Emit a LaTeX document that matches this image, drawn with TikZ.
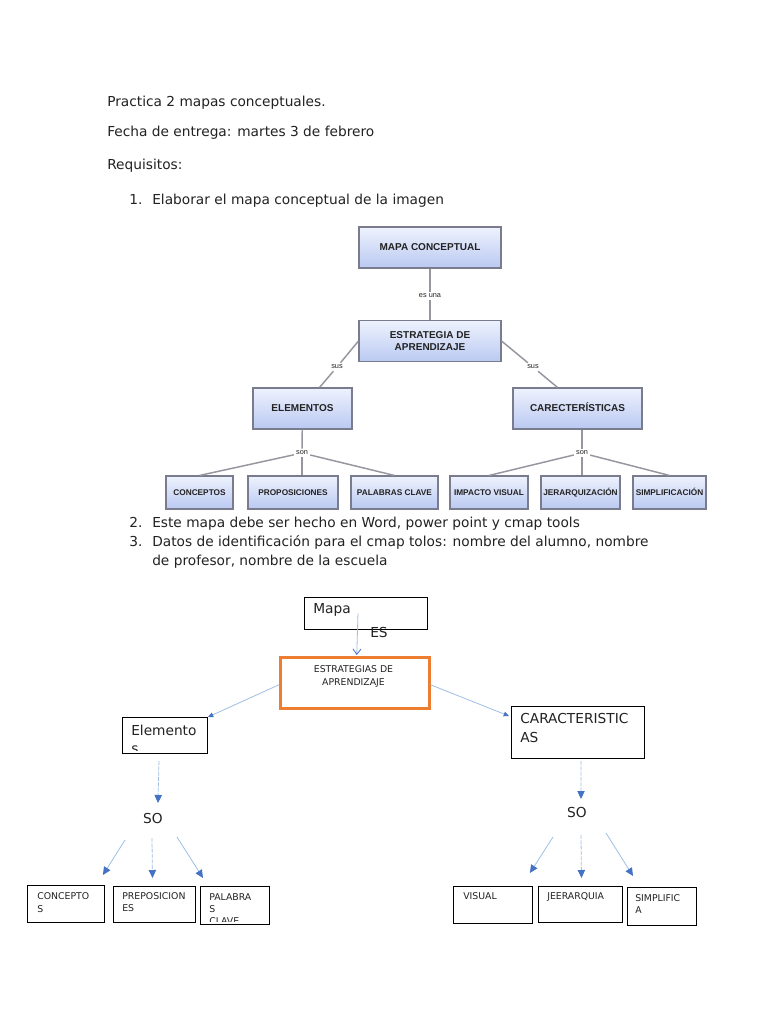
\documentclass[tikz,border=0pt]{standalone}
\usepackage{fontspec}
\setmainfont{DejaVu Sans}
\newfontfamily\cmapfont{Liberation Sans}
\usetikzlibrary{positioning, calc, arrows.meta}

\definecolor{cmaptop}{RGB}{238,242,253}
\definecolor{cmapbot}{RGB}{186,201,242}
\definecolor{cmapline}{RGB}{150,150,160}
\definecolor{cmapedge}{RGB}{120,124,140}
\definecolor{wline}{RGB}{160,190,228}
\definecolor{wtip}{RGB}{68,114,196}
\definecolor{worange}{RGB}{237,125,49}
\definecolor{inkgray}{RGB}{34,34,34}

\begin{document}
\begin{tikzpicture}[x=0.75pt, y=-0.75pt,
	txt/.style={anchor=base west, inner sep=0pt, text=inkgray, font=\fontsize{10.3}{12}\selectfont},
	cbox/.style={draw=cmapedge, line width=0.8pt, top color=cmaptop, bottom color=cmapbot, align=center, inner sep=0pt, text=inkgray, font=\cmapfont\bfseries\fontsize{7.5}{9.4}\selectfont},
	cone/.style={cbox, text height=5.4pt, text depth=0.2pt},
	csmall/.style={cbox, text height=4.5pt, text depth=0.2pt, font=\cmapfont\bfseries\fontsize{6.2}{7.5}\selectfont},
	clabel/.style={inner sep=1.5pt, text=inkgray, font=\cmapfont\fontsize{5.5}{6.5}\selectfont},
	cline/.style={draw=cmapline, line width=1.1pt},
	wbox/.style={draw=black, line width=0.7pt, anchor=north west, inner sep=0pt},
	wbig/.style={txt, font=\fontsize{10.3}{12}\selectfont},
	wsmall/.style={txt, font=\fontsize{7}{8}\selectfont},
	warrow/.style={draw=wline, line width=0.6pt, -{Triangle[length=6pt, width=5.5pt, color=wtip]}},
	wsmallarrow/.style={warrow, -{Triangle[length=4pt, width=3.5pt, color=wtip]}},
	wdash/.style={warrow, dash pattern=on 3pt off 1pt},
]
\fill[white] (0,0) rectangle (768,1024);
\useasboundingbox (0,0) rectangle (768,1024);

\node[txt] (t title) at (107,106) {Practica 2 mapas conceptuales.};
\node[txt] (t fecha) at (107,137) {Fecha de entrega: martes 3 de febrero};
\node[txt] (t req) at (107,169) {Requisitos:};
\foreach \k/\yy/\txt in {1/204/Elaborar el mapa conceptual de la imagen, 2/527/{Este mapa debe ser hecho en Word, power point y cmap tools}, 3/546/{Datos de identificación para el cmap tolos: nombre del alumno, nombre}} {
	\node[txt] (t num \k) at (129,\yy) {\k.};
	\node[txt] (t item \k) at (152,\yy) {\txt};
}
\node[txt] (t item 3b) at (152,565) {de profesor, nombre de la escuela};

\node[cone, minimum width=142*0.75pt, minimum height=41*0.75pt] (c mapa) at (430,247.5) {MAPA CONCEPTUAL};
\node[clabel] (l esuna) at (430,296) {es una};
\node[cbox, minimum width=142*0.75pt, minimum height=41*0.75pt] (c estr) at (430,341) {ESTRATEGIA DE\\APRENDIZAJE};
\node[clabel] (l sus1) at (337,367) {sus};
\node[clabel] (l sus2) at (533,367) {sus};
\node[cone, minimum width=99*0.75pt, minimum height=41*0.75pt] (c elem) at (302.5,408.5) {ELEMENTOS};
\node[cone, minimum width=129*0.75pt, minimum height=41*0.75pt] (c carac) at (577.5,408.5) {CARECTERÍSTICAS};
\node[clabel] (l son1) at (302,453) {son};
\node[clabel] (l son2) at (582,453) {son};
\foreach \name/\cx/\w/\txt in {concep/199.5/67/CONCEPTOS, prop/293/90/PROPOSICIONES, palab/394.5/87/PALABRAS CLAVE, impac/489/78/IMPACTO VISUAL, jerar/580.5/79/JERARQUIZACIÓN, simpl/669.5/73/SIMPLIFICACIÓN}
	\node[csmall, minimum width=\w*0.75pt, minimum height=33*0.75pt] (c \name) at (\cx,492.5) {\txt};

\draw[cline] (c mapa) -- (l esuna);
\draw[cline] (l esuna) -- (c estr);
\draw[cline] (c estr.west) -- (l sus1);
\draw[cline] (l sus1) -- ($(c elem.north)+(17,0)$);
\draw[cline] (c estr.east) -- (l sus2);
\draw[cline] (l sus2) -- ($(c carac.north)+(-20,0)$);
\draw[cline] (c elem) -- (l son1);
\draw[cline] (c carac.south -| l son2) -- (l son2);
\draw[cline] (l son1) -- (c concep.north);
\draw[cline] (l son1) -- (l son1 |- c prop.north);
\draw[cline] (l son1) -- (c palab.north);
\draw[cline] (l son2) -- (c impac.north);
\draw[cline] (l son2) -- (l son2 |- c jerar.north);
\draw[cline] (l son2) -- (c simpl.north);

\node[wbox, minimum width=123*0.75pt, minimum height=32*0.75pt] (w mapa) at (304,597) {};
\node[wbig] (w mapa txt) at (313,613) {Mapa};
\node[wbig] (w es) at (370,637) {ES};
\node[wbox, draw=worange, line width=1.9pt, minimum width=149*0.75pt, minimum height=51*0.75pt] (w estr) at (279,656) {};
\node[wsmall, anchor=base] (w estr 1) at (353.5,672.5) {ESTRATEGIAS DE};
\node[wsmall, anchor=base] (w estr 2) at (353.5,685.5) {APRENDIZAJE};
\node[wbox, minimum width=85*0.75pt, minimum height=36*0.75pt] (w elem) at (122,717) {};
\begin{scope}
	\clip (w elem.north west) rectangle ($(w elem.south east)+(0,-3)$);
	\node[wbig] (w elem 1) at (131,735) {Elemento};
	\node[wbig] (w elem 2) at (131,753) {s};
\end{scope}
\node[wbox, minimum width=133*0.75pt, minimum height=52*0.75pt] (w carac) at (511,706) {};
\node[wbig] (w carac 1) at (520,723) {CARACTERISTIC};
\node[wbig] (w carac 2) at (520,742) {AS};
\node[wbig, anchor=center] (w so1) at (153,818) {SO};
\node[wbig, anchor=center] (w so2) at (577,812) {SO};

\foreach \name/\xx/\yy/\w/\h in {concep/27/885/77/37, prepo/113/886/82/36, palab/200/886/69/38, visual/453/886/79/37, jeer/538/886/84/36, simpl/627/887/69/38}
	\node[wbox, minimum width=\w*0.75pt, minimum height=\h*0.75pt] (w \name) at (\xx,\yy) {};
\foreach \name/\xx/\yy/\txt in {concep 1/37/899.5/CONCEPTO, concep 2/37/912.5/S, prepo 1/122/899/PREPOSICION, prepo 2/122/911/ES, visual 1/463/899.5/VISUAL, jeer 1/547/899.5/JEERARQUIA, simpl 1/635/901.5/SIMPLIFIC, simpl 2/635/913.5/A}
	\node[wsmall] (w \name) at (\xx,\yy) {\txt};
\begin{scope}
	\clip (w palab.north west) rectangle ($(w palab.south east)+(0,-3)$);
	\foreach \k/\yy/\txt in {1/900.5/PALABRA, 2/912.5/S, 3/924.5/CLAVE}
		\node[wsmall] (w palab \k) at (209,\yy) {\txt};
\end{scope}

\draw[warrow, -{Straight Barb[length=4pt, width=6pt, color=wtip]}] ($(w mapa)+(-8,0)$) -- ($(w estr.north)+(2,-1)$);
\draw[wsmallarrow] ($(w estr.west)+(0,2)$) -- (w elem.north east);
\draw[wsmallarrow] ($(w estr.east)+(0,2)$) -- ($(w carac.north west)+(-2,10)$);
\draw[wdash] ($(w elem.south)+(-6,7)$) -- ($(w so1)+(5,-15)$);
\draw[wdash] ($(w carac.south)+(3,2)$) -- ($(w so2)+(4,-13)$);
\draw[warrow] ($(w so1)+(-28,22)$) -- ($(w concep.north east)+(-2,-10)$);
\draw[wdash] ($(w so1)+(-1,20)$) -- ($(w prepo.north)+(-2,-8)$);
\draw[warrow] ($(w so1)+(24,19)$) -- ($(w palab.north west)+(3,-8)$);
\draw[warrow] ($(w so2)+(-24,25)$) -- ($(w visual.north east)+(-3,-13)$);
\draw[wdash] ($(w so2)+(4,23)$) -- ($(w jeer.north)+(1,-8)$);
\draw[warrow] ($(w so2)+(29,21)$) -- ($(w simpl.north west)+(6,-11)$);
\end{tikzpicture}
\end{document}
